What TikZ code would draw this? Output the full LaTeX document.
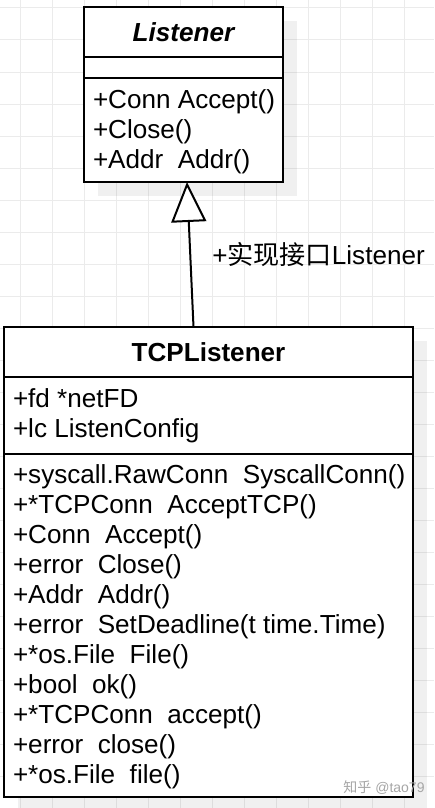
\documentclass[tikz,border=0pt]{standalone}
\usepackage{fontspec}
\setmainfont{Liberation Sans}
\newfontfamily\cjk{Noto Sans CJK SC}
\usetikzlibrary{arrows.meta,positioning}
\newcommand{\umlfont}{\fontsize{26.1pt}{30pt}\selectfont}

\begin{document}
\begin{tikzpicture}[
        x = 1pt, y = -1pt, % one unit per pixel, y pointing down
        every node/.style = {inner sep = 0pt, outer sep = 0pt, font = \umlfont},
        node distance = 0pt, % compartments sit on each other
        gridline/.style = {draw = black!8, line width = 1pt},
        shadowfill/.style = {fill = black, opacity = 0.06},
        compartment/.style = {draw = black, line width = 2pt, fill = white},
        member/.style = {anchor = base west},
        realize/.style = {line width = 2pt, -{Triangle[open, fill = white, length = 40pt, width = 35pt]}}
    ]

    \useasboundingbox (0,0) rectangle (434,808);

    % background grid
    \foreach \gx in {20,52,...,404}
        \draw[gridline] (\gx,0) -- (\gx,808);
    \foreach \gy in {8,40,...,808}
        \draw[gridline] (0,\gy) -- (434,\gy);

    % shadows
    \fill[shadowfill] (98,21) rectangle (297,196);
    \fill[shadowfill] (18,341) rectangle (427,811);

    % interface Listener
    \node[compartment, anchor = north west, minimum width = 199pt, minimum height = 50pt]
        (lsnname) at (84,7) {\bfseries\itshape Listener};
    \node[compartment, minimum width = 199pt, minimum height = 21pt, below = of lsnname] (lsnattr) {};
    \node[compartment, minimum width = 199pt, minimum height = 104pt, below = of lsnattr] (lsnops) {};
    \foreach \txt [count=\i] in {+Conn Accept(), +Close(), +Addr~ Addr()}
        \node[member] (lsnop\i) at (93, {78+30*\i}) {\txt};

    % struct TCPListener
    \node[compartment, anchor = north west, minimum width = 409pt, minimum height = 50pt]
        (tcpname) at (4,327) {\bfseries TCPListener};
    \node[compartment, minimum width = 409pt, minimum height = 77pt, below = of tcpname] (tcpattr) {};
    \node[compartment, minimum width = 409pt, minimum height = 343pt, below = of tcpattr] (tcpops) {};
    \foreach \txt [count=\i] in {+fd *netFD, +lc ListenConfig}
        \node[member] (tcpattr\i) at (13, {377+30*\i}) {\txt};
    \foreach \txt [count=\i] in {
            +syscall.RawConn~ SyscallConn(),
            +*TCPConn~ AcceptTCP(),
            +Conn~ Accept(),
            +error~ Close(),
            +Addr~ Addr(),
            +error~ SetDeadline(t time.Time),
            +*os.File~ File(),
            +bool~ ok(),
            +*TCPConn~ accept(),
            +error~ close(),
            +*os.File~ file()}
        \node[member] (tcpop\i) at (13, {453+30*\i}) {\txt};

    % realization
    \draw[realize] ([xshift=-15pt]tcpname.north)
        -- node[midway, anchor = west, xshift = 22pt] (realizelabel) {+{\cjk 实现接口}Listener}
        ([xshift=3.5pt]lsnops.south);

    % watermark
    \node[text = black!35, font = \fontsize{14pt}{16pt}\selectfont] (mark) at (384,788) {{\cjk 知乎} @tao79};
\end{tikzpicture}
\end{document}
